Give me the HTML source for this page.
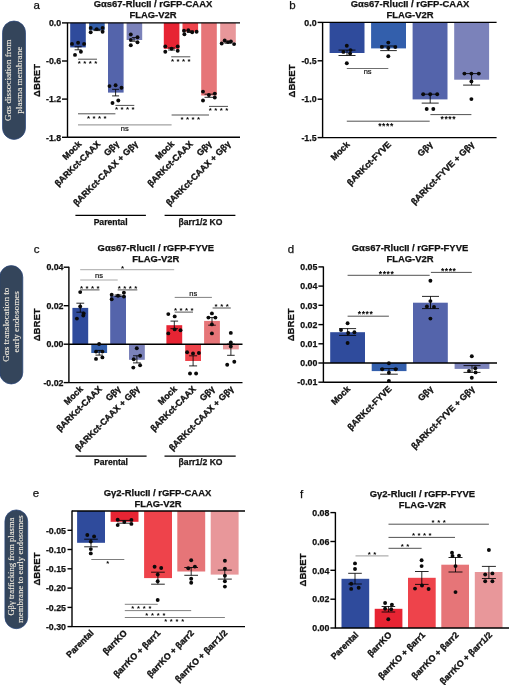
<!DOCTYPE html>
<html lang="en"><head><meta charset="utf-8"><title>Figure</title>
<style>
html,body{margin:0;padding:0;background:#fff;}
body{width:509px;height:685px;overflow:hidden;font-family:"Liberation Sans", Arial, sans-serif;}
svg{display:block;}
text{white-space:pre;}
</style></head><body>
<svg width="509" height="685" viewBox="0 0 509 685">
<rect x="0" y="0" width="509" height="685" fill="#ffffff"/>
<text x="33.6" y="9.4" font-family='"Liberation Sans", Arial, sans-serif' font-size="11.5" font-weight="normal" text-anchor="start" fill="#111" stroke="#111" stroke-width="0.25">a</text>
<text x="153.0" y="7.4" font-family='"Liberation Sans", Arial, sans-serif' font-size="9.45" font-weight="bold" text-anchor="middle" fill="#111" stroke="#111" stroke-width="0.25">Gαs67-RlucII / rGFP-CAAX</text>
<text x="153.0" y="18.4" font-family='"Liberation Sans", Arial, sans-serif' font-size="9.45" font-weight="bold" text-anchor="middle" fill="#111" stroke="#111" stroke-width="0.25">FLAG-V2R</text>
<rect x="2.5" y="21.0" width="23.0" height="118.4" rx="11.5" ry="11.5" fill="#34455b" stroke="#27447a" stroke-width="0.7"/>
<text x="10.8" y="80.2" font-family='"Liberation Serif", "Times New Roman", serif' font-size="9.2" font-weight="normal" text-anchor="middle" fill="#efe9dd" stroke="#efe9dd" stroke-width="0.12" transform="rotate(-90 10.8 80.2)">Gαs dissociation from</text>
<text x="21.6" y="80.2" font-family='"Liberation Serif", "Times New Roman", serif' font-size="9.2" font-weight="normal" text-anchor="middle" fill="#efe9dd" stroke="#efe9dd" stroke-width="0.12" transform="rotate(-90 21.6 80.2)">plasma membrane</text>
<text x="40.2" y="80.4" font-family='"Liberation Sans", Arial, sans-serif' font-size="9.6" font-weight="bold" text-anchor="middle" fill="#111" stroke="#111" stroke-width="0.25" transform="rotate(-90 40.2 80.4)">ΔBRET</text>
<rect x="70.2" y="22.9" width="15.6" height="24.5" fill="#2f4b9c"/>
<rect x="89.1" y="22.9" width="15.6" height="7.4" fill="#335fac"/>
<rect x="108.0" y="22.9" width="15.6" height="69.7" fill="#5464ab"/>
<rect x="126.6" y="22.9" width="15.6" height="17.1" fill="#7b82ba"/>
<rect x="163.8" y="22.9" width="15.6" height="25.9" fill="#e72433"/>
<rect x="182.5" y="22.9" width="15.6" height="8.8" fill="#ee434b"/>
<rect x="201.2" y="22.9" width="15.6" height="72.6" fill="#e67578"/>
<rect x="220.2" y="22.9" width="15.6" height="19.6" fill="#e8979a"/>
<line x1="67.5" y1="22.9" x2="240.0" y2="22.9" stroke="#000" stroke-width="1.4"/>
<line x1="67.5" y1="137.3" x2="240.0" y2="137.3" stroke="#000" stroke-width="1.4"/>
<line x1="67.5" y1="22.5" x2="67.5" y2="137.7" stroke="#000" stroke-width="1.4"/>
<line x1="62.0" y1="22.9" x2="67.5" y2="22.9" stroke="#000" stroke-width="1.4"/>
<text x="61.2" y="26.1" font-family='"Liberation Sans", Arial, sans-serif' font-size="8.8" font-weight="bold" text-anchor="end" fill="#111" stroke="#111" stroke-width="0.25">0.0</text>
<line x1="62.0" y1="61.0" x2="67.5" y2="61.0" stroke="#000" stroke-width="1.4"/>
<text x="61.2" y="64.2" font-family='"Liberation Sans", Arial, sans-serif' font-size="8.8" font-weight="bold" text-anchor="end" fill="#111" stroke="#111" stroke-width="0.25">-0.6</text>
<line x1="62.0" y1="99.1" x2="67.5" y2="99.1" stroke="#000" stroke-width="1.4"/>
<text x="61.2" y="102.3" font-family='"Liberation Sans", Arial, sans-serif' font-size="8.8" font-weight="bold" text-anchor="end" fill="#111" stroke="#111" stroke-width="0.25">-1.2</text>
<line x1="62.0" y1="137.3" x2="67.5" y2="137.3" stroke="#000" stroke-width="1.4"/>
<text x="61.2" y="140.5" font-family='"Liberation Sans", Arial, sans-serif' font-size="8.8" font-weight="bold" text-anchor="end" fill="#111" stroke="#111" stroke-width="0.25">-1.8</text>
<line x1="78.1" y1="46.8" x2="78.1" y2="49.8" stroke="#000" stroke-width="0.85"/>
<line x1="74.6" y1="46.8" x2="81.6" y2="46.8" stroke="#000" stroke-width="0.85"/>
<line x1="74.6" y1="49.8" x2="81.6" y2="49.8" stroke="#000" stroke-width="0.85"/>
<line x1="97.0" y1="29.3" x2="97.0" y2="30.6" stroke="#000" stroke-width="0.85"/>
<line x1="93.5" y1="29.3" x2="100.5" y2="29.3" stroke="#000" stroke-width="0.85"/>
<line x1="93.5" y1="30.6" x2="100.5" y2="30.6" stroke="#000" stroke-width="0.85"/>
<line x1="115.6" y1="89.3" x2="115.6" y2="95.9" stroke="#000" stroke-width="0.85"/>
<line x1="112.1" y1="89.3" x2="119.1" y2="89.3" stroke="#000" stroke-width="0.85"/>
<line x1="112.1" y1="95.9" x2="119.1" y2="95.9" stroke="#000" stroke-width="0.85"/>
<line x1="134.0" y1="37.6" x2="134.0" y2="41.2" stroke="#000" stroke-width="0.85"/>
<line x1="131.8" y1="37.6" x2="136.2" y2="37.6" stroke="#000" stroke-width="0.85"/>
<line x1="131.8" y1="41.2" x2="136.2" y2="41.2" stroke="#000" stroke-width="0.85"/>
<line x1="171.6" y1="48.0" x2="171.6" y2="50.0" stroke="#000" stroke-width="0.85"/>
<line x1="168.1" y1="48.0" x2="175.1" y2="48.0" stroke="#000" stroke-width="0.85"/>
<line x1="168.1" y1="50.0" x2="175.1" y2="50.0" stroke="#000" stroke-width="0.85"/>
<line x1="190.3" y1="31.0" x2="190.3" y2="32.5" stroke="#000" stroke-width="0.85"/>
<line x1="186.8" y1="31.0" x2="193.8" y2="31.0" stroke="#000" stroke-width="0.85"/>
<line x1="186.8" y1="32.5" x2="193.8" y2="32.5" stroke="#000" stroke-width="0.85"/>
<line x1="209.0" y1="94.2" x2="209.0" y2="97.3" stroke="#000" stroke-width="0.85"/>
<line x1="204.5" y1="94.2" x2="213.5" y2="94.2" stroke="#000" stroke-width="0.85"/>
<line x1="204.5" y1="97.3" x2="213.5" y2="97.3" stroke="#000" stroke-width="0.85"/>
<line x1="228.0" y1="42.0" x2="228.0" y2="43.2" stroke="#000" stroke-width="0.85"/>
<line x1="224.5" y1="42.0" x2="231.5" y2="42.0" stroke="#000" stroke-width="0.85"/>
<line x1="224.5" y1="43.2" x2="231.5" y2="43.2" stroke="#000" stroke-width="0.85"/>
<circle cx="72.0" cy="43.9" r="1.95" fill="#0a0a0a"/>
<circle cx="78.1" cy="42.8" r="1.95" fill="#0a0a0a"/>
<circle cx="84.1" cy="43.9" r="1.95" fill="#0a0a0a"/>
<circle cx="80.9" cy="51.8" r="1.95" fill="#0a0a0a"/>
<circle cx="75.0" cy="54.9" r="1.95" fill="#0a0a0a"/>
<circle cx="90.7" cy="27.9" r="1.95" fill="#0a0a0a"/>
<circle cx="96.7" cy="29.1" r="1.95" fill="#0a0a0a"/>
<circle cx="102.6" cy="27.9" r="1.95" fill="#0a0a0a"/>
<circle cx="90.7" cy="32.3" r="1.95" fill="#0a0a0a"/>
<circle cx="102.6" cy="31.8" r="1.95" fill="#0a0a0a"/>
<circle cx="109.5" cy="86.1" r="1.95" fill="#0a0a0a"/>
<circle cx="115.6" cy="85.3" r="1.95" fill="#0a0a0a"/>
<circle cx="121.5" cy="87.7" r="1.95" fill="#0a0a0a"/>
<circle cx="118.3" cy="100.5" r="1.95" fill="#0a0a0a"/>
<circle cx="112.5" cy="103.0" r="1.95" fill="#0a0a0a"/>
<circle cx="130.8" cy="34.5" r="1.95" fill="#0a0a0a"/>
<circle cx="130.8" cy="40.0" r="1.95" fill="#0a0a0a"/>
<circle cx="137.5" cy="37.3" r="1.95" fill="#0a0a0a"/>
<circle cx="137.5" cy="42.3" r="1.95" fill="#0a0a0a"/>
<circle cx="130.8" cy="45.2" r="1.95" fill="#0a0a0a"/>
<circle cx="165.3" cy="46.4" r="1.95" fill="#0a0a0a"/>
<circle cx="171.6" cy="48.8" r="1.95" fill="#0a0a0a"/>
<circle cx="177.7" cy="46.4" r="1.95" fill="#0a0a0a"/>
<circle cx="165.3" cy="51.7" r="1.95" fill="#0a0a0a"/>
<circle cx="177.7" cy="50.8" r="1.95" fill="#0a0a0a"/>
<circle cx="184.0" cy="30.7" r="1.95" fill="#0a0a0a"/>
<circle cx="188.3" cy="30.3" r="1.95" fill="#0a0a0a"/>
<circle cx="192.2" cy="32.3" r="1.95" fill="#0a0a0a"/>
<circle cx="196.6" cy="31.7" r="1.95" fill="#0a0a0a"/>
<circle cx="184.4" cy="34.3" r="1.95" fill="#0a0a0a"/>
<circle cx="203.0" cy="91.6" r="1.95" fill="#0a0a0a"/>
<circle cx="208.9" cy="95.0" r="1.95" fill="#0a0a0a"/>
<circle cx="214.8" cy="93.6" r="1.95" fill="#0a0a0a"/>
<circle cx="214.8" cy="97.5" r="1.95" fill="#0a0a0a"/>
<circle cx="203.0" cy="100.5" r="1.95" fill="#0a0a0a"/>
<circle cx="221.7" cy="43.5" r="1.95" fill="#0a0a0a"/>
<circle cx="224.7" cy="40.5" r="1.95" fill="#0a0a0a"/>
<circle cx="228.0" cy="42.1" r="1.95" fill="#0a0a0a"/>
<circle cx="230.9" cy="41.5" r="1.95" fill="#0a0a0a"/>
<circle cx="234.1" cy="44.1" r="1.95" fill="#0a0a0a"/>
<line x1="78.0" y1="59.2" x2="97.0" y2="59.2" stroke="#333" stroke-width="0.85"/>
<text x="88.8" y="66.2" font-family='"Liberation Sans", Arial, sans-serif' font-size="7.8" font-weight="bold" text-anchor="middle" fill="#000" letter-spacing="2.5">****</text>
<line x1="115.4" y1="105.4" x2="134.3" y2="105.4" stroke="#333" stroke-width="0.85"/>
<text x="126.1" y="112.4" font-family='"Liberation Sans", Arial, sans-serif' font-size="7.8" font-weight="bold" text-anchor="middle" fill="#000" letter-spacing="2.5">****</text>
<line x1="78.0" y1="113.8" x2="115.4" y2="113.8" stroke="#333" stroke-width="0.85"/>
<text x="98.0" y="120.8" font-family='"Liberation Sans", Arial, sans-serif' font-size="7.8" font-weight="bold" text-anchor="middle" fill="#000" letter-spacing="2.5">****</text>
<line x1="78.0" y1="124.9" x2="171.6" y2="124.9" stroke="#777" stroke-width="0.85"/>
<text x="124.8" y="130.7" font-family='"Liberation Sans", Arial, sans-serif' font-size="7.5" font-weight="normal" text-anchor="middle" fill="#111" stroke="#111" stroke-width="0.2">ns</text>
<line x1="171.2" y1="56.8" x2="190.3" y2="56.8" stroke="#333" stroke-width="0.85"/>
<text x="182.0" y="63.8" font-family='"Liberation Sans", Arial, sans-serif' font-size="7.8" font-weight="bold" text-anchor="middle" fill="#000" letter-spacing="2.5">****</text>
<line x1="209.0" y1="106.4" x2="228.0" y2="106.4" stroke="#333" stroke-width="0.85"/>
<text x="219.8" y="113.4" font-family='"Liberation Sans", Arial, sans-serif' font-size="7.8" font-weight="bold" text-anchor="middle" fill="#000" letter-spacing="2.5">****</text>
<line x1="171.6" y1="115.0" x2="209.0" y2="115.0" stroke="#333" stroke-width="0.85"/>
<text x="191.6" y="122.0" font-family='"Liberation Sans", Arial, sans-serif' font-size="7.8" font-weight="bold" text-anchor="middle" fill="#000" letter-spacing="2.5">****</text>
<text x="82.0" y="144.5" font-family='"Liberation Sans", Arial, sans-serif' font-size="8.8" font-weight="bold" text-anchor="end" fill="#111" stroke="#111" stroke-width="0.35" transform="rotate(-45 82.0 144.5)">Mock</text>
<text x="100.8" y="144.5" font-family='"Liberation Sans", Arial, sans-serif' font-size="8.8" font-weight="bold" text-anchor="end" fill="#111" stroke="#111" stroke-width="0.35" transform="rotate(-45 100.8 144.5)">βARKct-CAAX</text>
<text x="119.6" y="144.5" font-family='"Liberation Sans", Arial, sans-serif' font-size="8.8" font-weight="bold" text-anchor="end" fill="#111" stroke="#111" stroke-width="0.35" transform="rotate(-45 119.6 144.5)">Gβγ</text>
<text x="138.4" y="144.5" font-family='"Liberation Sans", Arial, sans-serif' font-size="8.8" font-weight="bold" text-anchor="end" fill="#111" stroke="#111" stroke-width="0.35" transform="rotate(-45 138.4 144.5)">βARKct-CAAX + Gβγ</text>
<text x="174.7" y="144.5" font-family='"Liberation Sans", Arial, sans-serif' font-size="8.8" font-weight="bold" text-anchor="end" fill="#111" stroke="#111" stroke-width="0.35" transform="rotate(-45 174.7 144.5)">Mock</text>
<text x="193.5" y="144.5" font-family='"Liberation Sans", Arial, sans-serif' font-size="8.8" font-weight="bold" text-anchor="end" fill="#111" stroke="#111" stroke-width="0.35" transform="rotate(-45 193.5 144.5)">βARKct-CAAX</text>
<text x="212.3" y="144.5" font-family='"Liberation Sans", Arial, sans-serif' font-size="8.8" font-weight="bold" text-anchor="end" fill="#111" stroke="#111" stroke-width="0.35" transform="rotate(-45 212.3 144.5)">Gβγ</text>
<text x="231.1" y="144.5" font-family='"Liberation Sans", Arial, sans-serif' font-size="8.8" font-weight="bold" text-anchor="end" fill="#111" stroke="#111" stroke-width="0.35" transform="rotate(-45 231.1 144.5)">βARKct-CAAX + Gβγ</text>
<line x1="75.4" y1="215.4" x2="145.9" y2="215.4" stroke="#000" stroke-width="1.4"/>
<line x1="164.6" y1="215.4" x2="235.4" y2="215.4" stroke="#000" stroke-width="1.4"/>
<text x="110.6" y="224.6" font-family='"Liberation Sans", Arial, sans-serif' font-size="8.6" font-weight="bold" text-anchor="middle" fill="#111" stroke="#111" stroke-width="0.25">Parental</text>
<text x="200.5" y="224.6" font-family='"Liberation Sans", Arial, sans-serif' font-size="8.6" font-weight="bold" text-anchor="middle" fill="#111" stroke="#111" stroke-width="0.25">βarr1/2 KO</text>
<text x="289.3" y="8.8" font-family='"Liberation Sans", Arial, sans-serif' font-size="11.5" font-weight="normal" text-anchor="start" fill="#111" stroke="#111" stroke-width="0.25">b</text>
<text x="410.0" y="7.3" font-family='"Liberation Sans", Arial, sans-serif' font-size="9.45" font-weight="bold" text-anchor="middle" fill="#111" stroke="#111" stroke-width="0.25">Gαs67-RlucII / rGFP-CAAX</text>
<text x="410.0" y="18.3" font-family='"Liberation Sans", Arial, sans-serif' font-size="9.45" font-weight="bold" text-anchor="middle" fill="#111" stroke="#111" stroke-width="0.25">FLAG-V2R</text>
<text x="295.2" y="81.0" font-family='"Liberation Sans", Arial, sans-serif' font-size="9.6" font-weight="bold" text-anchor="middle" fill="#111" stroke="#111" stroke-width="0.25" transform="rotate(-90 295.2 81.0)">ΔBRET</text>
<rect x="329.6" y="22.4" width="34.9" height="30.6" fill="#2f4b9c"/>
<rect x="371.1" y="22.4" width="34.9" height="26.0" fill="#335fac"/>
<rect x="412.6" y="22.4" width="34.9" height="77.0" fill="#5464ab"/>
<rect x="454.2" y="22.4" width="34.9" height="57.3" fill="#7b82ba"/>
<line x1="322.6" y1="22.4" x2="496.6" y2="22.4" stroke="#000" stroke-width="1.4"/>
<line x1="322.6" y1="137.6" x2="496.6" y2="137.6" stroke="#000" stroke-width="1.4"/>
<line x1="322.6" y1="22.0" x2="322.6" y2="138.0" stroke="#000" stroke-width="1.4"/>
<line x1="317.6" y1="22.4" x2="322.6" y2="22.4" stroke="#000" stroke-width="1.4"/>
<text x="316.6" y="25.6" font-family='"Liberation Sans", Arial, sans-serif' font-size="8.8" font-weight="bold" text-anchor="end" fill="#111" stroke="#111" stroke-width="0.25">0.0</text>
<line x1="317.6" y1="60.8" x2="322.6" y2="60.8" stroke="#000" stroke-width="1.4"/>
<text x="316.6" y="64.0" font-family='"Liberation Sans", Arial, sans-serif' font-size="8.8" font-weight="bold" text-anchor="end" fill="#111" stroke="#111" stroke-width="0.25">-0.5</text>
<line x1="317.6" y1="99.2" x2="322.6" y2="99.2" stroke="#000" stroke-width="1.4"/>
<text x="316.6" y="102.4" font-family='"Liberation Sans", Arial, sans-serif' font-size="8.8" font-weight="bold" text-anchor="end" fill="#111" stroke="#111" stroke-width="0.25">-1.0</text>
<line x1="317.6" y1="137.6" x2="322.6" y2="137.6" stroke="#000" stroke-width="1.4"/>
<text x="316.6" y="140.8" font-family='"Liberation Sans", Arial, sans-serif' font-size="8.8" font-weight="bold" text-anchor="end" fill="#111" stroke="#111" stroke-width="0.25">-1.5</text>
<line x1="347.0" y1="50.1" x2="347.0" y2="55.5" stroke="#000" stroke-width="0.85"/>
<line x1="338.5" y1="50.1" x2="355.5" y2="50.1" stroke="#000" stroke-width="0.85"/>
<line x1="338.5" y1="55.5" x2="355.5" y2="55.5" stroke="#000" stroke-width="0.85"/>
<line x1="388.5" y1="46.0" x2="388.5" y2="50.6" stroke="#000" stroke-width="0.85"/>
<line x1="380.2" y1="46.0" x2="396.8" y2="46.0" stroke="#000" stroke-width="0.85"/>
<line x1="380.2" y1="50.6" x2="396.8" y2="50.6" stroke="#000" stroke-width="0.85"/>
<line x1="430.2" y1="94.2" x2="430.2" y2="103.1" stroke="#000" stroke-width="0.85"/>
<line x1="421.7" y1="94.2" x2="438.7" y2="94.2" stroke="#000" stroke-width="0.85"/>
<line x1="421.7" y1="103.1" x2="438.7" y2="103.1" stroke="#000" stroke-width="0.85"/>
<line x1="471.6" y1="73.6" x2="471.6" y2="85.1" stroke="#000" stroke-width="0.85"/>
<line x1="463.1" y1="73.6" x2="480.1" y2="73.6" stroke="#000" stroke-width="0.85"/>
<line x1="463.1" y1="85.1" x2="480.1" y2="85.1" stroke="#000" stroke-width="0.85"/>
<circle cx="346.8" cy="45.8" r="1.95" fill="#0a0a0a"/>
<circle cx="343.4" cy="51.9" r="1.95" fill="#0a0a0a"/>
<circle cx="350.5" cy="50.1" r="1.95" fill="#0a0a0a"/>
<circle cx="350.1" cy="53.6" r="1.95" fill="#0a0a0a"/>
<circle cx="346.8" cy="63.3" r="1.95" fill="#0a0a0a"/>
<circle cx="388.3" cy="42.6" r="1.95" fill="#0a0a0a"/>
<circle cx="381.9" cy="46.9" r="1.95" fill="#0a0a0a"/>
<circle cx="388.3" cy="48.0" r="1.95" fill="#0a0a0a"/>
<circle cx="395.3" cy="47.1" r="1.95" fill="#0a0a0a"/>
<circle cx="388.3" cy="56.2" r="1.95" fill="#0a0a0a"/>
<circle cx="423.2" cy="94.2" r="1.95" fill="#0a0a0a"/>
<circle cx="430.2" cy="94.2" r="1.95" fill="#0a0a0a"/>
<circle cx="437.2" cy="94.2" r="1.95" fill="#0a0a0a"/>
<circle cx="426.7" cy="109.0" r="1.95" fill="#0a0a0a"/>
<circle cx="433.3" cy="109.0" r="1.95" fill="#0a0a0a"/>
<circle cx="464.4" cy="73.6" r="1.95" fill="#0a0a0a"/>
<circle cx="471.4" cy="73.6" r="1.95" fill="#0a0a0a"/>
<circle cx="478.8" cy="73.6" r="1.95" fill="#0a0a0a"/>
<circle cx="471.4" cy="81.4" r="1.95" fill="#0a0a0a"/>
<circle cx="471.4" cy="99.1" r="1.95" fill="#0a0a0a"/>
<line x1="346.8" y1="68.5" x2="388.3" y2="68.5" stroke="#555" stroke-width="0.85"/>
<text x="367.6" y="74.3" font-family='"Liberation Sans", Arial, sans-serif' font-size="7.5" font-weight="normal" text-anchor="middle" fill="#111" stroke="#111" stroke-width="0.2">ns</text>
<line x1="346.8" y1="121.2" x2="429.7" y2="121.2" stroke="#333" stroke-width="0.85"/>
<text x="386.0" y="128.6" font-family='"Liberation Sans", Arial, sans-serif' font-size="8.5" font-weight="bold" text-anchor="middle" fill="#000" letter-spacing="0.6">****</text>
<line x1="430.4" y1="114.6" x2="471.4" y2="114.6" stroke="#333" stroke-width="0.85"/>
<text x="448.3" y="122.0" font-family='"Liberation Sans", Arial, sans-serif' font-size="8.5" font-weight="bold" text-anchor="middle" fill="#000" letter-spacing="0.6">****</text>
<text x="350.2" y="145.0" font-family='"Liberation Sans", Arial, sans-serif' font-size="8.8" font-weight="bold" text-anchor="end" fill="#111" stroke="#111" stroke-width="0.35" transform="rotate(-45 350.2 145.0)">Mock</text>
<text x="391.7" y="145.0" font-family='"Liberation Sans", Arial, sans-serif' font-size="8.8" font-weight="bold" text-anchor="end" fill="#111" stroke="#111" stroke-width="0.35" transform="rotate(-45 391.7 145.0)">βARKct-FYVE</text>
<text x="433.2" y="145.0" font-family='"Liberation Sans", Arial, sans-serif' font-size="8.8" font-weight="bold" text-anchor="end" fill="#111" stroke="#111" stroke-width="0.35" transform="rotate(-45 433.2 145.0)">Gβγ</text>
<text x="474.7" y="145.0" font-family='"Liberation Sans", Arial, sans-serif' font-size="8.8" font-weight="bold" text-anchor="end" fill="#111" stroke="#111" stroke-width="0.35" transform="rotate(-45 474.7 145.0)">βARKct-FYVE + Gβγ</text>
<text x="33.8" y="252.9" font-family='"Liberation Sans", Arial, sans-serif' font-size="11.5" font-weight="normal" text-anchor="start" fill="#111" stroke="#111" stroke-width="0.25">c</text>
<text x="155.8" y="250.8" font-family='"Liberation Sans", Arial, sans-serif' font-size="9.45" font-weight="bold" text-anchor="middle" fill="#111" stroke="#111" stroke-width="0.25">Gαs67-RlucII / rGFP-FYVE</text>
<text x="155.8" y="262.4" font-family='"Liberation Sans", Arial, sans-serif' font-size="9.45" font-weight="bold" text-anchor="middle" fill="#111" stroke="#111" stroke-width="0.25">FLAG-V2R</text>
<rect x="-0.3" y="265.6" width="23.1" height="118.4" rx="11.6" ry="11.6" fill="#34455b" stroke="#27447a" stroke-width="0.7"/>
<text x="9.4" y="324.7" font-family='"Liberation Serif", "Times New Roman", serif' font-size="9.2" font-weight="normal" text-anchor="middle" fill="#efe9dd" stroke="#efe9dd" stroke-width="0.12" transform="rotate(-90 9.4 324.7)">Gαs translocation to</text>
<text x="19.0" y="321.8" font-family='"Liberation Serif", "Times New Roman", serif' font-size="9.2" font-weight="normal" text-anchor="middle" fill="#efe9dd" stroke="#efe9dd" stroke-width="0.12" transform="rotate(-90 19.0 321.8)">early endosomes</text>
<text x="40.1" y="324.8" font-family='"Liberation Sans", Arial, sans-serif' font-size="9.6" font-weight="bold" text-anchor="middle" fill="#111" stroke="#111" stroke-width="0.25" transform="rotate(-90 40.1 324.8)">ΔBRET</text>
<rect x="72.4" y="307.9" width="15.8" height="36.3" fill="#2f4b9c"/>
<rect x="91.3" y="344.2" width="15.8" height="8.8" fill="#335fac"/>
<rect x="110.2" y="295.7" width="15.8" height="48.5" fill="#5464ab"/>
<rect x="129.0" y="344.2" width="15.8" height="15.6" fill="#7b82ba"/>
<rect x="166.4" y="325.2" width="15.8" height="19.0" fill="#e72433"/>
<rect x="185.2" y="344.2" width="15.8" height="16.8" fill="#ee434b"/>
<rect x="204.1" y="320.9" width="15.8" height="23.3" fill="#e67578"/>
<rect x="223.0" y="344.2" width="15.8" height="5.2" fill="#e8979a"/>
<line x1="68.9" y1="344.2" x2="242.5" y2="344.2" stroke="#000" stroke-width="1.35"/>
<line x1="68.9" y1="382.6" x2="242.5" y2="382.6" stroke="#000" stroke-width="1.4"/>
<line x1="68.9" y1="266.8" x2="68.9" y2="383.0" stroke="#000" stroke-width="1.4"/>
<line x1="63.7" y1="267.2" x2="68.9" y2="267.2" stroke="#000" stroke-width="1.4"/>
<text x="63.5" y="270.4" font-family='"Liberation Sans", Arial, sans-serif' font-size="8.8" font-weight="bold" text-anchor="end" fill="#111" stroke="#111" stroke-width="0.25">0.04</text>
<line x1="63.7" y1="305.7" x2="68.9" y2="305.7" stroke="#000" stroke-width="1.4"/>
<text x="63.5" y="308.9" font-family='"Liberation Sans", Arial, sans-serif' font-size="8.8" font-weight="bold" text-anchor="end" fill="#111" stroke="#111" stroke-width="0.25">0.02</text>
<line x1="63.7" y1="344.2" x2="68.9" y2="344.2" stroke="#000" stroke-width="1.4"/>
<text x="63.5" y="347.4" font-family='"Liberation Sans", Arial, sans-serif' font-size="8.8" font-weight="bold" text-anchor="end" fill="#111" stroke="#111" stroke-width="0.25">0.00</text>
<line x1="63.7" y1="382.6" x2="68.9" y2="382.6" stroke="#000" stroke-width="1.4"/>
<text x="63.5" y="385.8" font-family='"Liberation Sans", Arial, sans-serif' font-size="8.8" font-weight="bold" text-anchor="end" fill="#111" stroke="#111" stroke-width="0.25">-0.02</text>
<line x1="80.3" y1="303.2" x2="80.3" y2="312.2" stroke="#000" stroke-width="0.85"/>
<line x1="76.4" y1="303.2" x2="84.2" y2="303.2" stroke="#000" stroke-width="0.85"/>
<line x1="76.4" y1="312.2" x2="84.2" y2="312.2" stroke="#000" stroke-width="0.85"/>
<line x1="99.2" y1="350.4" x2="99.2" y2="355.1" stroke="#000" stroke-width="0.85"/>
<line x1="95.5" y1="350.4" x2="103.0" y2="350.4" stroke="#000" stroke-width="0.85"/>
<line x1="95.5" y1="355.1" x2="103.0" y2="355.1" stroke="#000" stroke-width="0.85"/>
<line x1="118.1" y1="295.0" x2="118.1" y2="296.4" stroke="#000" stroke-width="0.85"/>
<line x1="114.6" y1="295.0" x2="121.6" y2="295.0" stroke="#000" stroke-width="0.85"/>
<line x1="114.6" y1="296.4" x2="121.6" y2="296.4" stroke="#000" stroke-width="0.85"/>
<line x1="136.9" y1="355.8" x2="136.9" y2="362.9" stroke="#000" stroke-width="0.85"/>
<line x1="133.0" y1="355.8" x2="140.8" y2="355.8" stroke="#000" stroke-width="0.85"/>
<line x1="133.0" y1="362.9" x2="140.8" y2="362.9" stroke="#000" stroke-width="0.85"/>
<line x1="174.3" y1="321.1" x2="174.3" y2="328.7" stroke="#000" stroke-width="0.85"/>
<line x1="170.5" y1="321.1" x2="178.1" y2="321.1" stroke="#000" stroke-width="0.85"/>
<line x1="170.5" y1="328.7" x2="178.1" y2="328.7" stroke="#000" stroke-width="0.85"/>
<line x1="193.1" y1="355.8" x2="193.1" y2="365.9" stroke="#000" stroke-width="0.85"/>
<line x1="189.1" y1="355.8" x2="197.1" y2="355.8" stroke="#000" stroke-width="0.85"/>
<line x1="189.1" y1="365.9" x2="197.1" y2="365.9" stroke="#000" stroke-width="0.85"/>
<line x1="212.0" y1="317.6" x2="212.0" y2="325.2" stroke="#000" stroke-width="0.85"/>
<line x1="208.2" y1="317.6" x2="215.8" y2="317.6" stroke="#000" stroke-width="0.85"/>
<line x1="208.2" y1="325.2" x2="215.8" y2="325.2" stroke="#000" stroke-width="0.85"/>
<line x1="230.9" y1="344.0" x2="230.9" y2="355.3" stroke="#000" stroke-width="0.85"/>
<line x1="227.1" y1="344.0" x2="234.7" y2="344.0" stroke="#000" stroke-width="0.85"/>
<line x1="227.1" y1="355.3" x2="234.7" y2="355.3" stroke="#000" stroke-width="0.85"/>
<circle cx="80.2" cy="292.1" r="1.95" fill="#0a0a0a"/>
<circle cx="80.2" cy="306.5" r="1.95" fill="#0a0a0a"/>
<circle cx="83.7" cy="313.4" r="1.95" fill="#0a0a0a"/>
<circle cx="76.9" cy="318.6" r="1.95" fill="#0a0a0a"/>
<circle cx="83.3" cy="315.5" r="1.95" fill="#0a0a0a"/>
<circle cx="99.1" cy="344.0" r="1.95" fill="#0a0a0a"/>
<circle cx="96.0" cy="351.6" r="1.95" fill="#0a0a0a"/>
<circle cx="102.4" cy="351.6" r="1.95" fill="#0a0a0a"/>
<circle cx="96.0" cy="358.9" r="1.95" fill="#0a0a0a"/>
<circle cx="102.4" cy="357.4" r="1.95" fill="#0a0a0a"/>
<circle cx="111.7" cy="294.7" r="1.95" fill="#0a0a0a"/>
<circle cx="118.0" cy="295.8" r="1.95" fill="#0a0a0a"/>
<circle cx="123.9" cy="292.7" r="1.95" fill="#0a0a0a"/>
<circle cx="111.7" cy="299.3" r="1.95" fill="#0a0a0a"/>
<circle cx="123.9" cy="296.6" r="1.95" fill="#0a0a0a"/>
<circle cx="136.8" cy="348.3" r="1.95" fill="#0a0a0a"/>
<circle cx="140.1" cy="355.8" r="1.95" fill="#0a0a0a"/>
<circle cx="133.7" cy="359.3" r="1.95" fill="#0a0a0a"/>
<circle cx="140.1" cy="365.2" r="1.95" fill="#0a0a0a"/>
<circle cx="133.3" cy="367.6" r="1.95" fill="#0a0a0a"/>
<circle cx="168.3" cy="314.1" r="1.95" fill="#0a0a0a"/>
<circle cx="174.7" cy="316.4" r="1.95" fill="#0a0a0a"/>
<circle cx="168.3" cy="333.4" r="1.95" fill="#0a0a0a"/>
<circle cx="174.7" cy="329.4" r="1.95" fill="#0a0a0a"/>
<circle cx="180.5" cy="330.3" r="1.95" fill="#0a0a0a"/>
<circle cx="187.1" cy="352.3" r="1.95" fill="#0a0a0a"/>
<circle cx="193.0" cy="353.4" r="1.95" fill="#0a0a0a"/>
<circle cx="198.9" cy="353.0" r="1.95" fill="#0a0a0a"/>
<circle cx="190.0" cy="373.5" r="1.95" fill="#0a0a0a"/>
<circle cx="196.1" cy="373.5" r="1.95" fill="#0a0a0a"/>
<circle cx="211.9" cy="313.4" r="1.95" fill="#0a0a0a"/>
<circle cx="208.4" cy="317.6" r="1.95" fill="#0a0a0a"/>
<circle cx="215.4" cy="317.6" r="1.95" fill="#0a0a0a"/>
<circle cx="211.9" cy="324.4" r="1.95" fill="#0a0a0a"/>
<circle cx="211.9" cy="333.4" r="1.95" fill="#0a0a0a"/>
<circle cx="230.8" cy="332.9" r="1.95" fill="#0a0a0a"/>
<circle cx="230.8" cy="342.4" r="1.95" fill="#0a0a0a"/>
<circle cx="230.8" cy="346.4" r="1.95" fill="#0a0a0a"/>
<circle cx="234.3" cy="361.7" r="1.95" fill="#0a0a0a"/>
<circle cx="227.2" cy="364.8" r="1.95" fill="#0a0a0a"/>
<line x1="80.2" y1="269.7" x2="174.2" y2="269.7" stroke="#999" stroke-width="0.85"/>
<text x="123.7" y="271.4" font-family='"Liberation Sans", Arial, sans-serif' font-size="7.8" font-weight="bold" text-anchor="middle" fill="#000" letter-spacing="2.5">*</text>
<line x1="80.2" y1="280.0" x2="117.7" y2="280.0" stroke="#999" stroke-width="0.85"/>
<text x="99.0" y="278.0" font-family='"Liberation Sans", Arial, sans-serif' font-size="7.5" font-weight="normal" text-anchor="middle" fill="#111" stroke="#111" stroke-width="0.2">ns</text>
<line x1="80.2" y1="289.9" x2="99.5" y2="289.9" stroke="#333" stroke-width="0.85"/>
<text x="91.1" y="290.7" font-family='"Liberation Sans", Arial, sans-serif' font-size="7.8" font-weight="bold" text-anchor="middle" fill="#000" letter-spacing="2.5">****</text>
<line x1="117.7" y1="289.9" x2="137.3" y2="289.9" stroke="#333" stroke-width="0.85"/>
<text x="128.8" y="290.7" font-family='"Liberation Sans", Arial, sans-serif' font-size="7.8" font-weight="bold" text-anchor="middle" fill="#000" letter-spacing="2.5">****</text>
<line x1="174.7" y1="297.4" x2="211.9" y2="297.4" stroke="#6a6a6a" stroke-width="0.85"/>
<text x="193.3" y="295.8" font-family='"Liberation Sans", Arial, sans-serif' font-size="7.5" font-weight="normal" text-anchor="middle" fill="#111" stroke="#111" stroke-width="0.2">ns</text>
<line x1="174.7" y1="312.1" x2="193.0" y2="312.1" stroke="#333" stroke-width="0.85"/>
<text x="185.1" y="312.9" font-family='"Liberation Sans", Arial, sans-serif' font-size="7.8" font-weight="bold" text-anchor="middle" fill="#000" letter-spacing="2.5">****</text>
<line x1="212.6" y1="308.0" x2="230.8" y2="308.0" stroke="#333" stroke-width="0.85"/>
<text x="222.9" y="308.8" font-family='"Liberation Sans", Arial, sans-serif' font-size="7.8" font-weight="bold" text-anchor="middle" fill="#000" letter-spacing="2.5">***</text>
<text x="83.5" y="389.5" font-family='"Liberation Sans", Arial, sans-serif' font-size="8.8" font-weight="bold" text-anchor="end" fill="#111" stroke="#111" stroke-width="0.35" transform="rotate(-45 83.5 389.5)">Mock</text>
<text x="102.4" y="389.5" font-family='"Liberation Sans", Arial, sans-serif' font-size="8.8" font-weight="bold" text-anchor="end" fill="#111" stroke="#111" stroke-width="0.35" transform="rotate(-45 102.4 389.5)">βARKct-CAAX</text>
<text x="121.3" y="389.5" font-family='"Liberation Sans", Arial, sans-serif' font-size="8.8" font-weight="bold" text-anchor="end" fill="#111" stroke="#111" stroke-width="0.35" transform="rotate(-45 121.3 389.5)">Gβγ</text>
<text x="140.2" y="389.5" font-family='"Liberation Sans", Arial, sans-serif' font-size="8.8" font-weight="bold" text-anchor="end" fill="#111" stroke="#111" stroke-width="0.35" transform="rotate(-45 140.2 389.5)">βARKct-CAAX + Gβγ</text>
<text x="177.5" y="389.5" font-family='"Liberation Sans", Arial, sans-serif' font-size="8.8" font-weight="bold" text-anchor="end" fill="#111" stroke="#111" stroke-width="0.35" transform="rotate(-45 177.5 389.5)">Mock</text>
<text x="196.4" y="389.5" font-family='"Liberation Sans", Arial, sans-serif' font-size="8.8" font-weight="bold" text-anchor="end" fill="#111" stroke="#111" stroke-width="0.35" transform="rotate(-45 196.4 389.5)">βARKct-CAAX</text>
<text x="215.3" y="389.5" font-family='"Liberation Sans", Arial, sans-serif' font-size="8.8" font-weight="bold" text-anchor="end" fill="#111" stroke="#111" stroke-width="0.35" transform="rotate(-45 215.3 389.5)">Gβγ</text>
<text x="234.2" y="389.5" font-family='"Liberation Sans", Arial, sans-serif' font-size="8.8" font-weight="bold" text-anchor="end" fill="#111" stroke="#111" stroke-width="0.35" transform="rotate(-45 234.2 389.5)">βARKct-CAAX + Gβγ</text>
<line x1="75.6" y1="456.1" x2="146.6" y2="456.1" stroke="#000" stroke-width="1.4"/>
<line x1="164.5" y1="456.1" x2="235.7" y2="456.1" stroke="#000" stroke-width="1.4"/>
<text x="111.0" y="465.3" font-family='"Liberation Sans", Arial, sans-serif' font-size="8.6" font-weight="bold" text-anchor="middle" fill="#111" stroke="#111" stroke-width="0.25">Parental</text>
<text x="200.6" y="465.3" font-family='"Liberation Sans", Arial, sans-serif' font-size="8.6" font-weight="bold" text-anchor="middle" fill="#111" stroke="#111" stroke-width="0.25">βarr1/2 KO</text>
<text x="287.8" y="253.0" font-family='"Liberation Sans", Arial, sans-serif' font-size="11.5" font-weight="normal" text-anchor="start" fill="#111" stroke="#111" stroke-width="0.25">d</text>
<text x="410.0" y="250.8" font-family='"Liberation Sans", Arial, sans-serif' font-size="9.45" font-weight="bold" text-anchor="middle" fill="#111" stroke="#111" stroke-width="0.25">Gαs67-RlucII / rGFP-FYVE</text>
<text x="410.0" y="262.4" font-family='"Liberation Sans", Arial, sans-serif' font-size="9.45" font-weight="bold" text-anchor="middle" fill="#111" stroke="#111" stroke-width="0.25">FLAG-V2R</text>
<text x="294.1" y="324.8" font-family='"Liberation Sans", Arial, sans-serif' font-size="9.6" font-weight="bold" text-anchor="middle" fill="#111" stroke="#111" stroke-width="0.25" transform="rotate(-90 294.1 324.8)">ΔBRET</text>
<rect x="330.2" y="332.2" width="34.8" height="30.8" fill="#2f4b9c"/>
<rect x="371.7" y="363.0" width="34.8" height="8.1" fill="#335fac"/>
<rect x="413.0" y="302.7" width="34.8" height="60.3" fill="#5464ab"/>
<rect x="454.6" y="363.0" width="34.8" height="5.9" fill="#7b82ba"/>
<line x1="323.4" y1="363.0" x2="497.0" y2="363.0" stroke="#000" stroke-width="1.35"/>
<line x1="323.4" y1="382.2" x2="497.0" y2="382.2" stroke="#000" stroke-width="1.4"/>
<line x1="323.4" y1="266.5" x2="323.4" y2="382.6" stroke="#000" stroke-width="1.4"/>
<line x1="318.4" y1="266.9" x2="323.4" y2="266.9" stroke="#000" stroke-width="1.4"/>
<text x="317.4" y="270.1" font-family='"Liberation Sans", Arial, sans-serif' font-size="8.8" font-weight="bold" text-anchor="end" fill="#111" stroke="#111" stroke-width="0.25">0.05</text>
<line x1="318.4" y1="286.1" x2="323.4" y2="286.1" stroke="#000" stroke-width="1.4"/>
<text x="317.4" y="289.3" font-family='"Liberation Sans", Arial, sans-serif' font-size="8.8" font-weight="bold" text-anchor="end" fill="#111" stroke="#111" stroke-width="0.25">0.04</text>
<line x1="318.4" y1="305.3" x2="323.4" y2="305.3" stroke="#000" stroke-width="1.4"/>
<text x="317.4" y="308.5" font-family='"Liberation Sans", Arial, sans-serif' font-size="8.8" font-weight="bold" text-anchor="end" fill="#111" stroke="#111" stroke-width="0.25">0.03</text>
<line x1="318.4" y1="324.6" x2="323.4" y2="324.6" stroke="#000" stroke-width="1.4"/>
<text x="317.4" y="327.8" font-family='"Liberation Sans", Arial, sans-serif' font-size="8.8" font-weight="bold" text-anchor="end" fill="#111" stroke="#111" stroke-width="0.25">0.02</text>
<line x1="318.4" y1="343.8" x2="323.4" y2="343.8" stroke="#000" stroke-width="1.4"/>
<text x="317.4" y="347.0" font-family='"Liberation Sans", Arial, sans-serif' font-size="8.8" font-weight="bold" text-anchor="end" fill="#111" stroke="#111" stroke-width="0.25">0.01</text>
<line x1="318.4" y1="363.0" x2="323.4" y2="363.0" stroke="#000" stroke-width="1.4"/>
<text x="317.4" y="366.2" font-family='"Liberation Sans", Arial, sans-serif' font-size="8.8" font-weight="bold" text-anchor="end" fill="#111" stroke="#111" stroke-width="0.25">0.00</text>
<line x1="318.4" y1="382.2" x2="323.4" y2="382.2" stroke="#000" stroke-width="1.4"/>
<text x="317.4" y="385.4" font-family='"Liberation Sans", Arial, sans-serif' font-size="8.8" font-weight="bold" text-anchor="end" fill="#111" stroke="#111" stroke-width="0.25">-0.01</text>
<line x1="347.6" y1="328.6" x2="347.6" y2="335.4" stroke="#000" stroke-width="0.85"/>
<line x1="339.1" y1="328.6" x2="356.1" y2="328.6" stroke="#000" stroke-width="0.85"/>
<line x1="339.1" y1="335.4" x2="356.1" y2="335.4" stroke="#000" stroke-width="0.85"/>
<line x1="389.0" y1="368.6" x2="389.0" y2="374.2" stroke="#000" stroke-width="0.85"/>
<line x1="380.2" y1="368.6" x2="397.8" y2="368.6" stroke="#000" stroke-width="0.85"/>
<line x1="380.2" y1="374.2" x2="397.8" y2="374.2" stroke="#000" stroke-width="0.85"/>
<line x1="430.5" y1="296.4" x2="430.5" y2="308.6" stroke="#000" stroke-width="0.85"/>
<line x1="422.0" y1="296.4" x2="439.0" y2="296.4" stroke="#000" stroke-width="0.85"/>
<line x1="422.0" y1="308.6" x2="439.0" y2="308.6" stroke="#000" stroke-width="0.85"/>
<line x1="472.0" y1="365.6" x2="472.0" y2="372.4" stroke="#000" stroke-width="0.85"/>
<line x1="463.5" y1="365.6" x2="480.5" y2="365.6" stroke="#000" stroke-width="0.85"/>
<line x1="463.5" y1="372.4" x2="480.5" y2="372.4" stroke="#000" stroke-width="0.85"/>
<circle cx="347.6" cy="323.2" r="1.95" fill="#0a0a0a"/>
<circle cx="341.0" cy="330.0" r="1.95" fill="#0a0a0a"/>
<circle cx="354.4" cy="332.2" r="1.95" fill="#0a0a0a"/>
<circle cx="348.2" cy="333.0" r="1.95" fill="#0a0a0a"/>
<circle cx="347.6" cy="343.0" r="1.95" fill="#0a0a0a"/>
<circle cx="388.9" cy="363.2" r="1.95" fill="#0a0a0a"/>
<circle cx="382.2" cy="369.3" r="1.95" fill="#0a0a0a"/>
<circle cx="395.7" cy="369.3" r="1.95" fill="#0a0a0a"/>
<circle cx="388.9" cy="372.7" r="1.95" fill="#0a0a0a"/>
<circle cx="388.9" cy="381.0" r="1.95" fill="#0a0a0a"/>
<circle cx="430.4" cy="280.8" r="1.95" fill="#0a0a0a"/>
<circle cx="430.4" cy="301.1" r="1.95" fill="#0a0a0a"/>
<circle cx="426.9" cy="306.5" r="1.95" fill="#0a0a0a"/>
<circle cx="434.0" cy="307.0" r="1.95" fill="#0a0a0a"/>
<circle cx="430.4" cy="318.6" r="1.95" fill="#0a0a0a"/>
<circle cx="471.8" cy="356.3" r="1.95" fill="#0a0a0a"/>
<circle cx="469.0" cy="371.0" r="1.95" fill="#0a0a0a"/>
<circle cx="475.3" cy="368.2" r="1.95" fill="#0a0a0a"/>
<circle cx="475.6" cy="372.4" r="1.95" fill="#0a0a0a"/>
<circle cx="471.8" cy="377.8" r="1.95" fill="#0a0a0a"/>
<line x1="347.6" y1="275.3" x2="429.7" y2="275.3" stroke="#333" stroke-width="0.85"/>
<text x="386.6" y="276.5" font-family='"Liberation Sans", Arial, sans-serif' font-size="8.5" font-weight="bold" text-anchor="middle" fill="#000" letter-spacing="0.6">****</text>
<line x1="430.9" y1="272.4" x2="471.8" y2="272.4" stroke="#333" stroke-width="0.85"/>
<text x="448.7" y="273.6" font-family='"Liberation Sans", Arial, sans-serif' font-size="8.5" font-weight="bold" text-anchor="middle" fill="#000" letter-spacing="0.6">****</text>
<line x1="347.6" y1="316.2" x2="388.9" y2="316.2" stroke="#333" stroke-width="0.85"/>
<text x="365.6" y="317.4" font-family='"Liberation Sans", Arial, sans-serif' font-size="8.5" font-weight="bold" text-anchor="middle" fill="#000" letter-spacing="0.6">****</text>
<text x="350.6" y="389.5" font-family='"Liberation Sans", Arial, sans-serif' font-size="8.8" font-weight="bold" text-anchor="end" fill="#111" stroke="#111" stroke-width="0.35" transform="rotate(-45 350.6 389.5)">Mock</text>
<text x="392.1" y="389.5" font-family='"Liberation Sans", Arial, sans-serif' font-size="8.8" font-weight="bold" text-anchor="end" fill="#111" stroke="#111" stroke-width="0.35" transform="rotate(-45 392.1 389.5)">βARKct-FYVE</text>
<text x="433.6" y="389.5" font-family='"Liberation Sans", Arial, sans-serif' font-size="8.8" font-weight="bold" text-anchor="end" fill="#111" stroke="#111" stroke-width="0.35" transform="rotate(-45 433.6 389.5)">Gβγ</text>
<text x="475.1" y="389.5" font-family='"Liberation Sans", Arial, sans-serif' font-size="8.8" font-weight="bold" text-anchor="end" fill="#111" stroke="#111" stroke-width="0.35" transform="rotate(-45 475.1 389.5)">βARKct-FYVE + Gβγ</text>
<text x="32.8" y="497.4" font-family='"Liberation Sans", Arial, sans-serif' font-size="11.5" font-weight="normal" text-anchor="start" fill="#111" stroke="#111" stroke-width="0.25">e</text>
<text x="157.5" y="495.5" font-family='"Liberation Sans", Arial, sans-serif' font-size="9.45" font-weight="bold" text-anchor="middle" fill="#111" stroke="#111" stroke-width="0.25">Gγ2-RlucII / rGFP-CAAX</text>
<text x="158.0" y="506.6" font-family='"Liberation Sans", Arial, sans-serif' font-size="9.45" font-weight="bold" text-anchor="middle" fill="#111" stroke="#111" stroke-width="0.25">FLAG-V2R</text>
<rect x="4.9" y="509.9" width="22.8" height="118.8" rx="11.4" ry="11.4" fill="#34455b" stroke="#27447a" stroke-width="0.7"/>
<text x="14.2" y="566.6" font-family='"Liberation Serif", "Times New Roman", serif' font-size="8.6" font-weight="normal" text-anchor="middle" fill="#efe9dd" stroke="#efe9dd" stroke-width="0.12" transform="rotate(-90 14.2 566.6)">Gβγ trafficking from plasma</text>
<text x="23.4" y="569.2" font-family='"Liberation Serif", "Times New Roman", serif' font-size="8.85" font-weight="normal" text-anchor="middle" fill="#efe9dd" stroke="#efe9dd" stroke-width="0.12" transform="rotate(-90 23.4 569.2)">membrane to early endosomes</text>
<text x="39.6" y="569.0" font-family='"Liberation Sans", Arial, sans-serif' font-size="9.6" font-weight="bold" text-anchor="middle" fill="#111" stroke="#111" stroke-width="0.25" transform="rotate(-90 39.6 569.0)">ΔBRET</text>
<rect x="77.1" y="511.0" width="27.9" height="31.8" fill="#2f4b9c"/>
<rect x="110.6" y="511.0" width="27.9" height="10.8" fill="#e72433"/>
<rect x="144.1" y="511.0" width="27.9" height="67.1" fill="#ee434b"/>
<rect x="177.3" y="511.0" width="27.9" height="60.5" fill="#e67578"/>
<rect x="210.7" y="511.0" width="27.9" height="63.6" fill="#e8979a"/>
<line x1="72.0" y1="511.0" x2="245.0" y2="511.0" stroke="#000" stroke-width="1.4"/>
<line x1="72.0" y1="626.6" x2="245.0" y2="626.6" stroke="#000" stroke-width="1.4"/>
<line x1="72.0" y1="510.6" x2="72.0" y2="627.0" stroke="#000" stroke-width="1.4"/>
<line x1="67.5" y1="530.3" x2="72.0" y2="530.3" stroke="#000" stroke-width="1.4"/>
<text x="66.0" y="533.5" font-family='"Liberation Sans", Arial, sans-serif' font-size="8.8" font-weight="bold" text-anchor="end" fill="#111" stroke="#111" stroke-width="0.25">-0.05</text>
<line x1="67.5" y1="549.5" x2="72.0" y2="549.5" stroke="#000" stroke-width="1.4"/>
<text x="66.0" y="552.7" font-family='"Liberation Sans", Arial, sans-serif' font-size="8.8" font-weight="bold" text-anchor="end" fill="#111" stroke="#111" stroke-width="0.25">-0.10</text>
<line x1="67.5" y1="568.8" x2="72.0" y2="568.8" stroke="#000" stroke-width="1.4"/>
<text x="66.0" y="572.0" font-family='"Liberation Sans", Arial, sans-serif' font-size="8.8" font-weight="bold" text-anchor="end" fill="#111" stroke="#111" stroke-width="0.25">-0.15</text>
<line x1="67.5" y1="588.1" x2="72.0" y2="588.1" stroke="#000" stroke-width="1.4"/>
<text x="66.0" y="591.3" font-family='"Liberation Sans", Arial, sans-serif' font-size="8.8" font-weight="bold" text-anchor="end" fill="#111" stroke="#111" stroke-width="0.25">-0.20</text>
<line x1="67.5" y1="607.4" x2="72.0" y2="607.4" stroke="#000" stroke-width="1.4"/>
<text x="66.0" y="610.6" font-family='"Liberation Sans", Arial, sans-serif' font-size="8.8" font-weight="bold" text-anchor="end" fill="#111" stroke="#111" stroke-width="0.25">-0.25</text>
<line x1="67.5" y1="626.6" x2="72.0" y2="626.6" stroke="#000" stroke-width="1.4"/>
<text x="66.0" y="629.8" font-family='"Liberation Sans", Arial, sans-serif' font-size="8.8" font-weight="bold" text-anchor="end" fill="#111" stroke="#111" stroke-width="0.25">-0.30</text>
<line x1="91.0" y1="539.2" x2="91.0" y2="546.8" stroke="#000" stroke-width="0.85"/>
<line x1="84.2" y1="539.2" x2="97.8" y2="539.2" stroke="#000" stroke-width="0.85"/>
<line x1="84.2" y1="546.8" x2="97.8" y2="546.8" stroke="#000" stroke-width="0.85"/>
<line x1="124.5" y1="520.4" x2="124.5" y2="523.2" stroke="#000" stroke-width="0.85"/>
<line x1="117.2" y1="520.4" x2="131.8" y2="520.4" stroke="#000" stroke-width="0.85"/>
<line x1="117.2" y1="523.2" x2="131.8" y2="523.2" stroke="#000" stroke-width="0.85"/>
<line x1="157.9" y1="572.2" x2="157.9" y2="584.2" stroke="#000" stroke-width="0.85"/>
<line x1="151.1" y1="572.2" x2="164.8" y2="572.2" stroke="#000" stroke-width="0.85"/>
<line x1="151.1" y1="584.2" x2="164.8" y2="584.2" stroke="#000" stroke-width="0.85"/>
<line x1="191.2" y1="567.5" x2="191.2" y2="575.3" stroke="#000" stroke-width="0.85"/>
<line x1="184.3" y1="567.5" x2="198.0" y2="567.5" stroke="#000" stroke-width="0.85"/>
<line x1="184.3" y1="575.3" x2="198.0" y2="575.3" stroke="#000" stroke-width="0.85"/>
<line x1="224.8" y1="570.1" x2="224.8" y2="579.1" stroke="#000" stroke-width="0.85"/>
<line x1="217.8" y1="570.1" x2="231.8" y2="570.1" stroke="#000" stroke-width="0.85"/>
<line x1="217.8" y1="579.1" x2="231.8" y2="579.1" stroke="#000" stroke-width="0.85"/>
<circle cx="87.3" cy="535.0" r="1.95" fill="#0a0a0a"/>
<circle cx="94.1" cy="536.4" r="1.95" fill="#0a0a0a"/>
<circle cx="90.8" cy="541.6" r="1.95" fill="#0a0a0a"/>
<circle cx="90.8" cy="549.1" r="1.95" fill="#0a0a0a"/>
<circle cx="90.8" cy="553.4" r="1.95" fill="#0a0a0a"/>
<circle cx="117.7" cy="519.7" r="1.95" fill="#0a0a0a"/>
<circle cx="131.4" cy="519.9" r="1.95" fill="#0a0a0a"/>
<circle cx="124.3" cy="522.0" r="1.95" fill="#0a0a0a"/>
<circle cx="117.7" cy="525.1" r="1.95" fill="#0a0a0a"/>
<circle cx="131.4" cy="523.9" r="1.95" fill="#0a0a0a"/>
<circle cx="154.6" cy="566.8" r="1.95" fill="#0a0a0a"/>
<circle cx="161.2" cy="568.0" r="1.95" fill="#0a0a0a"/>
<circle cx="157.7" cy="574.6" r="1.95" fill="#0a0a0a"/>
<circle cx="157.7" cy="581.2" r="1.95" fill="#0a0a0a"/>
<circle cx="157.7" cy="600.0" r="1.95" fill="#0a0a0a"/>
<circle cx="191.2" cy="560.2" r="1.95" fill="#0a0a0a"/>
<circle cx="188.3" cy="568.2" r="1.95" fill="#0a0a0a"/>
<circle cx="194.9" cy="566.6" r="1.95" fill="#0a0a0a"/>
<circle cx="191.2" cy="578.8" r="1.95" fill="#0a0a0a"/>
<circle cx="191.2" cy="582.8" r="1.95" fill="#0a0a0a"/>
<circle cx="224.9" cy="560.7" r="1.95" fill="#0a0a0a"/>
<circle cx="224.9" cy="568.7" r="1.95" fill="#0a0a0a"/>
<circle cx="224.9" cy="575.8" r="1.95" fill="#0a0a0a"/>
<circle cx="224.9" cy="581.2" r="1.95" fill="#0a0a0a"/>
<circle cx="224.9" cy="586.6" r="1.95" fill="#0a0a0a"/>
<line x1="91.3" y1="559.5" x2="124.3" y2="559.5" stroke="#666" stroke-width="0.85"/>
<text x="109.2" y="566.4" font-family='"Liberation Sans", Arial, sans-serif' font-size="7.5" font-weight="bold" text-anchor="middle" fill="#000" letter-spacing="2.8">*</text>
<line x1="124.8" y1="604.3" x2="157.7" y2="604.3" stroke="#6a6a6a" stroke-width="0.85"/>
<text x="142.7" y="611.2" font-family='"Liberation Sans", Arial, sans-serif' font-size="7.5" font-weight="bold" text-anchor="middle" fill="#000" letter-spacing="2.8">****</text>
<line x1="124.8" y1="610.6" x2="191.2" y2="610.6" stroke="#6a6a6a" stroke-width="0.85"/>
<text x="156.7" y="617.5" font-family='"Liberation Sans", Arial, sans-serif' font-size="7.5" font-weight="bold" text-anchor="middle" fill="#000" letter-spacing="2.8">****</text>
<line x1="124.8" y1="617.5" x2="224.9" y2="617.5" stroke="#6a6a6a" stroke-width="0.85"/>
<text x="175.6" y="624.4" font-family='"Liberation Sans", Arial, sans-serif' font-size="7.5" font-weight="bold" text-anchor="middle" fill="#000" letter-spacing="2.8">****</text>
<text x="94.3" y="633.6" font-family='"Liberation Sans", Arial, sans-serif' font-size="8.8" font-weight="bold" text-anchor="end" fill="#111" stroke="#111" stroke-width="0.35" transform="rotate(-45 94.3 633.6)">Parental</text>
<text x="127.7" y="633.6" font-family='"Liberation Sans", Arial, sans-serif' font-size="8.8" font-weight="bold" text-anchor="end" fill="#111" stroke="#111" stroke-width="0.35" transform="rotate(-45 127.7 633.6)">βarrKO</text>
<text x="161.1" y="633.6" font-family='"Liberation Sans", Arial, sans-serif' font-size="8.8" font-weight="bold" text-anchor="end" fill="#111" stroke="#111" stroke-width="0.35" transform="rotate(-45 161.1 633.6)">βarrKO + βarr1</text>
<text x="194.5" y="633.6" font-family='"Liberation Sans", Arial, sans-serif' font-size="8.8" font-weight="bold" text-anchor="end" fill="#111" stroke="#111" stroke-width="0.35" transform="rotate(-45 194.5 633.6)">βarrKO + βarr2</text>
<text x="227.9" y="633.6" font-family='"Liberation Sans", Arial, sans-serif' font-size="8.8" font-weight="bold" text-anchor="end" fill="#111" stroke="#111" stroke-width="0.35" transform="rotate(-45 227.9 633.6)">βarrKO + βarr1/2</text>
<text x="299.9" y="497.6" font-family='"Liberation Sans", Arial, sans-serif' font-size="11.5" font-weight="normal" text-anchor="start" fill="#111" stroke="#111" stroke-width="0.25">f</text>
<text x="422.4" y="496.6" font-family='"Liberation Sans", Arial, sans-serif' font-size="9.45" font-weight="bold" text-anchor="middle" fill="#111" stroke="#111" stroke-width="0.25">Gγ2-RlucII / rGFP-FYVE</text>
<text x="422.4" y="507.9" font-family='"Liberation Sans", Arial, sans-serif' font-size="9.45" font-weight="bold" text-anchor="middle" fill="#111" stroke="#111" stroke-width="0.25">FLAG-V2R</text>
<text x="306.2" y="570.0" font-family='"Liberation Sans", Arial, sans-serif' font-size="9.6" font-weight="bold" text-anchor="middle" fill="#111" stroke="#111" stroke-width="0.25" transform="rotate(-90 306.2 570.0)">ΔBRET</text>
<rect x="341.5" y="578.8" width="27.7" height="49.2" fill="#2f4b9c"/>
<rect x="374.7" y="608.8" width="27.7" height="19.2" fill="#e72433"/>
<rect x="408.0" y="577.8" width="27.7" height="50.2" fill="#ee434b"/>
<rect x="441.3" y="564.7" width="27.7" height="63.3" fill="#e67578"/>
<rect x="474.8" y="572.0" width="27.7" height="56.0" fill="#e8979a"/>
<line x1="335.4" y1="628.0" x2="509.0" y2="628.0" stroke="#000" stroke-width="1.35"/>
<line x1="335.4" y1="512.2" x2="335.4" y2="628.5" stroke="#000" stroke-width="1.4"/>
<line x1="330.4" y1="512.6" x2="335.4" y2="512.6" stroke="#000" stroke-width="1.4"/>
<text x="329.4" y="515.8" font-family='"Liberation Sans", Arial, sans-serif' font-size="8.8" font-weight="bold" text-anchor="end" fill="#111" stroke="#111" stroke-width="0.25">0.08</text>
<line x1="330.4" y1="541.5" x2="335.4" y2="541.5" stroke="#000" stroke-width="1.4"/>
<text x="329.4" y="544.7" font-family='"Liberation Sans", Arial, sans-serif' font-size="8.8" font-weight="bold" text-anchor="end" fill="#111" stroke="#111" stroke-width="0.25">0.06</text>
<line x1="330.4" y1="570.3" x2="335.4" y2="570.3" stroke="#000" stroke-width="1.4"/>
<text x="329.4" y="573.5" font-family='"Liberation Sans", Arial, sans-serif' font-size="8.8" font-weight="bold" text-anchor="end" fill="#111" stroke="#111" stroke-width="0.25">0.04</text>
<line x1="330.4" y1="599.2" x2="335.4" y2="599.2" stroke="#000" stroke-width="1.4"/>
<text x="329.4" y="602.4" font-family='"Liberation Sans", Arial, sans-serif' font-size="8.8" font-weight="bold" text-anchor="end" fill="#111" stroke="#111" stroke-width="0.25">0.02</text>
<line x1="330.4" y1="628.0" x2="335.4" y2="628.0" stroke="#000" stroke-width="1.4"/>
<text x="329.4" y="631.2" font-family='"Liberation Sans", Arial, sans-serif' font-size="8.8" font-weight="bold" text-anchor="end" fill="#111" stroke="#111" stroke-width="0.25">0.00</text>
<line x1="355.0" y1="573.3" x2="355.0" y2="584.0" stroke="#000" stroke-width="0.85"/>
<line x1="348.2" y1="573.3" x2="361.8" y2="573.3" stroke="#000" stroke-width="0.85"/>
<line x1="348.2" y1="584.0" x2="361.8" y2="584.0" stroke="#000" stroke-width="0.85"/>
<line x1="388.4" y1="606.5" x2="388.4" y2="612.0" stroke="#000" stroke-width="0.85"/>
<line x1="381.6" y1="606.5" x2="395.2" y2="606.5" stroke="#000" stroke-width="0.85"/>
<line x1="381.6" y1="612.0" x2="395.2" y2="612.0" stroke="#000" stroke-width="0.85"/>
<line x1="421.8" y1="571.5" x2="421.8" y2="584.4" stroke="#000" stroke-width="0.85"/>
<line x1="415.0" y1="571.5" x2="428.6" y2="571.5" stroke="#000" stroke-width="0.85"/>
<line x1="415.0" y1="584.4" x2="428.6" y2="584.4" stroke="#000" stroke-width="0.85"/>
<line x1="455.5" y1="557.5" x2="455.5" y2="572.0" stroke="#000" stroke-width="0.85"/>
<line x1="448.5" y1="557.5" x2="462.5" y2="557.5" stroke="#000" stroke-width="0.85"/>
<line x1="448.5" y1="572.0" x2="462.5" y2="572.0" stroke="#000" stroke-width="0.85"/>
<line x1="488.9" y1="566.4" x2="488.9" y2="578.5" stroke="#000" stroke-width="0.85"/>
<line x1="481.9" y1="566.4" x2="495.9" y2="566.4" stroke="#000" stroke-width="0.85"/>
<line x1="481.9" y1="578.5" x2="495.9" y2="578.5" stroke="#000" stroke-width="0.85"/>
<circle cx="355.0" cy="563.4" r="1.95" fill="#0a0a0a"/>
<circle cx="355.0" cy="569.0" r="1.95" fill="#0a0a0a"/>
<circle cx="351.2" cy="583.7" r="1.95" fill="#0a0a0a"/>
<circle cx="351.2" cy="588.9" r="1.95" fill="#0a0a0a"/>
<circle cx="358.7" cy="587.8" r="1.95" fill="#0a0a0a"/>
<circle cx="385.1" cy="603.0" r="1.95" fill="#0a0a0a"/>
<circle cx="391.9" cy="604.7" r="1.95" fill="#0a0a0a"/>
<circle cx="385.1" cy="608.8" r="1.95" fill="#0a0a0a"/>
<circle cx="391.2" cy="609.3" r="1.95" fill="#0a0a0a"/>
<circle cx="388.3" cy="619.2" r="1.95" fill="#0a0a0a"/>
<circle cx="421.6" cy="560.3" r="1.95" fill="#0a0a0a"/>
<circle cx="421.6" cy="566.1" r="1.95" fill="#0a0a0a"/>
<circle cx="415.0" cy="588.6" r="1.95" fill="#0a0a0a"/>
<circle cx="422.0" cy="585.5" r="1.95" fill="#0a0a0a"/>
<circle cx="428.6" cy="589.0" r="1.95" fill="#0a0a0a"/>
<circle cx="452.0" cy="552.8" r="1.95" fill="#0a0a0a"/>
<circle cx="459.0" cy="555.6" r="1.95" fill="#0a0a0a"/>
<circle cx="455.5" cy="566.1" r="1.95" fill="#0a0a0a"/>
<circle cx="455.5" cy="592.1" r="1.95" fill="#0a0a0a"/>
<circle cx="452.5" cy="556.0" r="1.95" fill="#0a0a0a"/>
<circle cx="488.9" cy="550.0" r="1.95" fill="#0a0a0a"/>
<circle cx="485.2" cy="574.5" r="1.95" fill="#0a0a0a"/>
<circle cx="492.4" cy="573.4" r="1.95" fill="#0a0a0a"/>
<circle cx="485.2" cy="581.3" r="1.95" fill="#0a0a0a"/>
<circle cx="492.4" cy="581.3" r="1.95" fill="#0a0a0a"/>
<line x1="355.5" y1="555.9" x2="388.5" y2="555.9" stroke="#888" stroke-width="0.85"/>
<text x="373.2" y="556.7" font-family='"Liberation Sans", Arial, sans-serif' font-size="7.8" font-weight="bold" text-anchor="middle" fill="#000" letter-spacing="2.5">**</text>
<line x1="388.5" y1="548.3" x2="421.6" y2="548.3" stroke="#333" stroke-width="0.85"/>
<text x="406.3" y="549.1" font-family='"Liberation Sans", Arial, sans-serif' font-size="7.8" font-weight="bold" text-anchor="middle" fill="#000" letter-spacing="2.5">**</text>
<line x1="388.5" y1="537.4" x2="455.0" y2="537.4" stroke="#333" stroke-width="0.85"/>
<text x="423.0" y="538.2" font-family='"Liberation Sans", Arial, sans-serif' font-size="7.8" font-weight="bold" text-anchor="middle" fill="#000" letter-spacing="2.5">****</text>
<line x1="388.5" y1="524.2" x2="488.9" y2="524.2" stroke="#333" stroke-width="0.85"/>
<text x="439.9" y="525.0" font-family='"Liberation Sans", Arial, sans-serif' font-size="7.8" font-weight="bold" text-anchor="middle" fill="#000" letter-spacing="2.5">***</text>
<text x="359.0" y="635.5" font-family='"Liberation Sans", Arial, sans-serif' font-size="8.8" font-weight="bold" text-anchor="end" fill="#111" stroke="#111" stroke-width="0.35" transform="rotate(-45 359.0 635.5)">Parental</text>
<text x="392.4" y="635.5" font-family='"Liberation Sans", Arial, sans-serif' font-size="8.8" font-weight="bold" text-anchor="end" fill="#111" stroke="#111" stroke-width="0.35" transform="rotate(-45 392.4 635.5)">βarrKO</text>
<text x="425.8" y="635.5" font-family='"Liberation Sans", Arial, sans-serif' font-size="8.8" font-weight="bold" text-anchor="end" fill="#111" stroke="#111" stroke-width="0.35" transform="rotate(-45 425.8 635.5)">βarrKO + βarr1</text>
<text x="459.2" y="635.5" font-family='"Liberation Sans", Arial, sans-serif' font-size="8.8" font-weight="bold" text-anchor="end" fill="#111" stroke="#111" stroke-width="0.35" transform="rotate(-45 459.2 635.5)">βarrKO + βarr2</text>
<text x="492.6" y="635.5" font-family='"Liberation Sans", Arial, sans-serif' font-size="8.8" font-weight="bold" text-anchor="end" fill="#111" stroke="#111" stroke-width="0.35" transform="rotate(-45 492.6 635.5)">βarrKO + βarr1/2</text>
</svg>
</body></html>
